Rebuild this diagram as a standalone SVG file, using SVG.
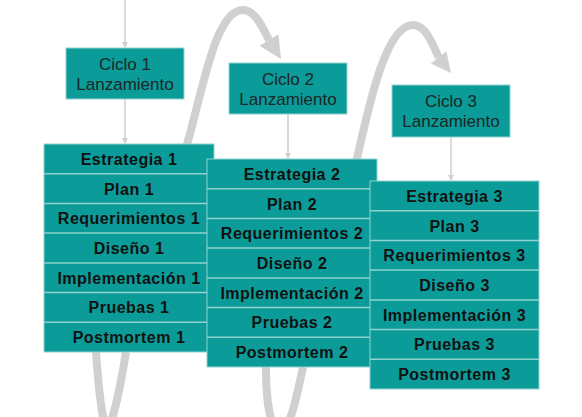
<svg xmlns="http://www.w3.org/2000/svg" width="582" height="417" viewBox="0 0 582 417">
<defs>
<style>
.bg{fill:#ffffff}
.loop{fill:none;stroke:#d0d0d0;stroke-width:8;stroke-linecap:butt}
.head{fill:#d0d0d0}
.thin{fill:none;stroke:#cfcfcf;stroke-width:1.5}
.box{fill:#0b9b98;stroke:#8fd3d0;stroke-width:1}
.sep{stroke:#8fd3d0;stroke-width:1.5}
.ct{font-family:"Liberation Sans",Arial,sans-serif;font-size:17px;fill:#1c2626;text-anchor:middle}
.st{font-family:"Liberation Sans",Arial,sans-serif;font-size:16px;font-weight:bold;letter-spacing:0.5px;fill:#111111;text-anchor:middle}
</style>
<marker id="ah" viewBox="0 0 6 6" refX="5" refY="3" markerWidth="4" markerHeight="4" orient="auto" markerUnits="strokeWidth">
<path d="M0,0 L6,3 L0,6 z" fill="#cfcfcf"/>
</marker>
</defs>
<rect class="bg" x="0" y="0" width="582" height="417"/>

<g id="connectors">
<path class="loop" d="M 96 352 C 99 395, 103 426, 107 426 C 112 426, 119 395, 126 352"/>
<path class="loop" d="M 266 367 C 266 400, 270 430, 280 430 C 290 430, 296 400, 303 367"/>
<path class="loop" d="M 186 148 C 203 90, 215 10, 243 10 C 255 10, 263 28, 269 40"/>
<polygon class="head" points="259.6,45.7 278.4,34.3 281,59"/>
<path class="loop" d="M 356 163 C 368 110, 385 25, 413 25 C 425 25, 432 42, 438.6 57.4"/>
<polygon class="head" points="430.8,63.6 446.4,51.2 451,73"/>
<line class="thin" x1="125" y1="0" x2="125" y2="47" marker-end="url(#ah)"/>
<line class="thin" x1="125" y1="99" x2="125" y2="143" marker-end="url(#ah)"/>
<line class="thin" x1="288" y1="114" x2="288" y2="158" marker-end="url(#ah)"/>
<line class="thin" x1="451" y1="137" x2="451" y2="180" marker-end="url(#ah)"/>
</g>

<g id="ciclo1">
<rect class="box" x="66" y="48" width="118" height="51"/>
<text class="ct" x="125" y="70">Ciclo 1</text>
<text class="ct" x="125" y="90">Lanzamiento</text>
</g>
<g id="ciclo2">
<rect class="box" x="229" y="63" width="118" height="51"/>
<text class="ct" x="288" y="85">Ciclo 2</text>
<text class="ct" x="288" y="105">Lanzamiento</text>
</g>
<g id="ciclo3">
<rect class="box" x="392" y="85" width="118" height="52"/>
<text class="ct" x="451" y="107">Ciclo 3</text>
<text class="ct" x="451" y="127">Lanzamiento</text>
</g>

<g id="stack1">
<rect class="box" x="44" y="144" width="170" height="208"/>
<line class="sep" x1="44" y1="173.7" x2="214" y2="173.7"/>
<line class="sep" x1="44" y1="203.4" x2="214" y2="203.4"/>
<line class="sep" x1="44" y1="233.1" x2="214" y2="233.1"/>
<line class="sep" x1="44" y1="262.9" x2="214" y2="262.9"/>
<line class="sep" x1="44" y1="292.6" x2="214" y2="292.6"/>
<line class="sep" x1="44" y1="322.3" x2="214" y2="322.3"/>
<text class="st" x="129" y="165">Estrategia 1</text>
<text class="st" x="129" y="194.5">Plan 1</text>
<text class="st" x="129" y="224.3">Requerimientos 1</text>
<text class="st" x="129" y="254">Diseño 1</text>
<text class="st" x="129" y="283.7">Implementación 1</text>
<text class="st" x="129" y="313.4">Pruebas 1</text>
<text class="st" x="129" y="343.2">Postmortem 1</text>
</g>

<g id="stack2">
<rect class="box" x="207" y="159" width="170" height="208"/>
<line class="sep" x1="207" y1="188.7" x2="377" y2="188.7"/>
<line class="sep" x1="207" y1="218.4" x2="377" y2="218.4"/>
<line class="sep" x1="207" y1="248.1" x2="377" y2="248.1"/>
<line class="sep" x1="207" y1="277.9" x2="377" y2="277.9"/>
<line class="sep" x1="207" y1="307.6" x2="377" y2="307.6"/>
<line class="sep" x1="207" y1="337.3" x2="377" y2="337.3"/>
<text class="st" x="292" y="180">Estrategia 2</text>
<text class="st" x="292" y="209.5">Plan 2</text>
<text class="st" x="292" y="239.3">Requerimientos 2</text>
<text class="st" x="292" y="269">Diseño 2</text>
<text class="st" x="292" y="298.7">Implementación 2</text>
<text class="st" x="292" y="328.4">Pruebas 2</text>
<text class="st" x="292" y="358.2">Postmortem 2</text>
</g>

<g id="stack3">
<rect class="box" x="370" y="181" width="169" height="208"/>
<line class="sep" x1="370" y1="210.7" x2="539" y2="210.7"/>
<line class="sep" x1="370" y1="240.4" x2="539" y2="240.4"/>
<line class="sep" x1="370" y1="270.1" x2="539" y2="270.1"/>
<line class="sep" x1="370" y1="299.9" x2="539" y2="299.9"/>
<line class="sep" x1="370" y1="329.6" x2="539" y2="329.6"/>
<line class="sep" x1="370" y1="359.3" x2="539" y2="359.3"/>
<text class="st" x="454.5" y="202">Estrategia 3</text>
<text class="st" x="454.5" y="231.5">Plan 3</text>
<text class="st" x="454.5" y="261.3">Requerimientos 3</text>
<text class="st" x="454.5" y="291">Diseño 3</text>
<text class="st" x="454.5" y="320.7">Implementación 3</text>
<text class="st" x="454.5" y="350.4">Pruebas 3</text>
<text class="st" x="454.5" y="380.2">Postmortem 3</text>
</g>
</svg>
